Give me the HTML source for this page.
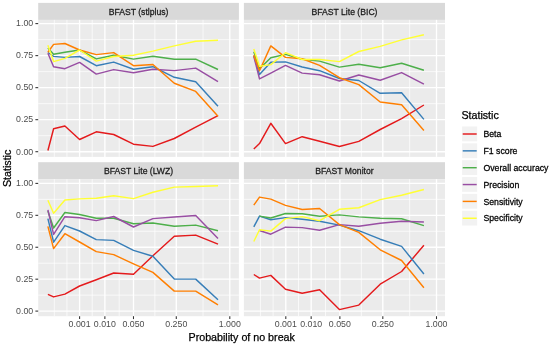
<!DOCTYPE html>
<html><head><meta charset="utf-8"><title>Statistic plot</title>
<style>
html,body{margin:0;padding:0;background:#fff;}
body{width:550px;height:345px;overflow:hidden;}
svg{display:block;font-family:'Liberation Sans', Arial, Helvetica, sans-serif;filter:blur(0.3px);}
text{stroke-width:0.25px;paint-order:fill;}
.t{stroke:none} .k{stroke:#000} .s{stroke:#1A1A1A}
</style></head><body>
<svg width="550" height="345" viewBox="0 0 550 345">
<rect width="550" height="345" fill="#FFFFFF"/>
<rect x="38.2" y="2.9" width="200.7" height="17.00" fill="#D9D9D9"/>
<text transform="translate(138.55,14.60) scale(1,1.1)" font-size="8.65" fill="#1A1A1A" class="s" text-anchor="middle">BFAST (stlplus)</text>
<rect x="38.2" y="19.9" width="200.7" height="137.0" fill="#EBEBEB"/>
<svg x="38.2" y="19.9" width="200.7" height="137.0" viewBox="38.2 19.9 200.7 137.0" overflow="hidden">
<line x1="38.2" x2="238.89999999999998" y1="135.69" y2="135.69" stroke="#FFFFFF" stroke-width="0.7"/>
<line x1="38.2" x2="238.89999999999998" y1="103.66" y2="103.66" stroke="#FFFFFF" stroke-width="0.7"/>
<line x1="38.2" x2="238.89999999999998" y1="71.64" y2="71.64" stroke="#FFFFFF" stroke-width="0.7"/>
<line x1="38.2" x2="238.89999999999998" y1="39.61" y2="39.61" stroke="#FFFFFF" stroke-width="0.7"/>
<line x1="54.30" x2="54.30" y1="19.9" y2="156.9" stroke="#FFFFFF" stroke-width="0.7"/>
<line x1="66.95" x2="66.95" y1="19.9" y2="156.9" stroke="#FFFFFF" stroke-width="0.7"/>
<line x1="92.23" x2="92.23" y1="19.9" y2="156.9" stroke="#FFFFFF" stroke-width="0.7"/>
<line x1="119.18" x2="119.18" y1="19.9" y2="156.9" stroke="#FFFFFF" stroke-width="0.7"/>
<line x1="154.89" x2="154.89" y1="19.9" y2="156.9" stroke="#FFFFFF" stroke-width="0.7"/>
<line x1="203.04" x2="203.04" y1="19.9" y2="156.9" stroke="#FFFFFF" stroke-width="0.7"/>
<line x1="38.2" x2="238.89999999999998" y1="151.70" y2="151.70" stroke="#FFFFFF" stroke-width="1.35"/>
<line x1="38.2" x2="238.89999999999998" y1="119.67" y2="119.67" stroke="#FFFFFF" stroke-width="1.35"/>
<line x1="38.2" x2="238.89999999999998" y1="87.65" y2="87.65" stroke="#FFFFFF" stroke-width="1.35"/>
<line x1="38.2" x2="238.89999999999998" y1="55.62" y2="55.62" stroke="#FFFFFF" stroke-width="1.35"/>
<line x1="38.2" x2="238.89999999999998" y1="23.60" y2="23.60" stroke="#FFFFFF" stroke-width="1.35"/>
<line x1="79.59" x2="79.59" y1="19.9" y2="156.9" stroke="#FFFFFF" stroke-width="1.35"/>
<line x1="104.87" x2="104.87" y1="19.9" y2="156.9" stroke="#FFFFFF" stroke-width="1.35"/>
<line x1="133.49" x2="133.49" y1="19.9" y2="156.9" stroke="#FFFFFF" stroke-width="1.35"/>
<line x1="176.29" x2="176.29" y1="19.9" y2="156.9" stroke="#FFFFFF" stroke-width="1.35"/>
<line x1="229.80" x2="229.80" y1="19.9" y2="156.9" stroke="#FFFFFF" stroke-width="1.35"/>
<polyline points="47.9,150.5 53.6,128.7 64.9,126.0 79.6,139.5 96.3,131.8 113.7,134.5 133.5,144.2 152.9,146.4 174.3,138.5 195.7,127.1 218.0,115.6" fill="none" stroke="#E41A1C" stroke-width="1.45" stroke-linejoin="round" stroke-linecap="butt"/>
<polyline points="47.9,52.5 53.6,56.4 64.9,57.4 79.6,56.5 96.3,65.7 113.7,62.1 133.5,69.2 152.9,66.7 174.3,77.3 195.7,81.7 218.0,106.2" fill="none" stroke="#377EB8" stroke-width="1.45" stroke-linejoin="round" stroke-linecap="butt"/>
<polyline points="47.9,48.0 53.6,54.2 64.9,52.3 79.6,50.0 96.3,58.9 113.7,55.2 133.5,59.1 152.9,56.2 174.3,59.3 195.7,59.1 218.0,69.5" fill="none" stroke="#4DAF4A" stroke-width="1.45" stroke-linejoin="round" stroke-linecap="butt"/>
<polyline points="47.9,53.3 53.6,66.7 64.9,68.7 79.6,62.4 96.3,74.1 113.7,69.6 133.5,72.8 152.9,69.3 174.3,70.6 195.7,68.1 218.0,81.7" fill="none" stroke="#984EA3" stroke-width="1.45" stroke-linejoin="round" stroke-linecap="butt"/>
<polyline points="47.9,52.2 53.6,44.4 64.9,43.5 79.6,50.0 96.3,54.6 113.7,52.6 133.5,65.7 152.9,64.5 174.3,83.2 195.7,91.4 218.0,116.3" fill="none" stroke="#FF7F00" stroke-width="1.45" stroke-linejoin="round" stroke-linecap="butt"/>
<polyline points="47.9,45.3 53.6,61.6 64.9,58.4 79.6,50.0 96.3,61.1 113.7,56.5 133.5,55.2 152.9,51.1 174.3,45.9 195.7,41.2 218.0,40.3" fill="none" stroke="#FFFF33" stroke-width="1.45" stroke-linejoin="round" stroke-linecap="butt"/>
</svg>
<line x1="35.4" x2="38.2" y1="151.70" y2="151.70" stroke="#333333" stroke-width="1.07"/>
<text transform="translate(33.2,154.50) scale(1.0,1.1)" font-size="8.8" fill="#4D4D4D" class="t" text-anchor="end">0.00</text>
<line x1="35.4" x2="38.2" y1="119.67" y2="119.67" stroke="#333333" stroke-width="1.07"/>
<text transform="translate(33.2,122.47) scale(1.0,1.1)" font-size="8.8" fill="#4D4D4D" class="t" text-anchor="end">0.25</text>
<line x1="35.4" x2="38.2" y1="87.65" y2="87.65" stroke="#333333" stroke-width="1.07"/>
<text transform="translate(33.2,90.45) scale(1.0,1.1)" font-size="8.8" fill="#4D4D4D" class="t" text-anchor="end">0.50</text>
<line x1="35.4" x2="38.2" y1="55.62" y2="55.62" stroke="#333333" stroke-width="1.07"/>
<text transform="translate(33.2,58.42) scale(1.0,1.1)" font-size="8.8" fill="#4D4D4D" class="t" text-anchor="end">0.75</text>
<line x1="35.4" x2="38.2" y1="23.60" y2="23.60" stroke="#333333" stroke-width="1.07"/>
<text transform="translate(33.2,26.40) scale(1.0,1.1)" font-size="8.8" fill="#4D4D4D" class="t" text-anchor="end">1.00</text>
<rect x="243.9" y="2.9" width="201.1" height="17.00" fill="#D9D9D9"/>
<text transform="translate(344.45,14.60) scale(1,1.1)" font-size="8.65" fill="#1A1A1A" class="s" text-anchor="middle">BFAST Lite (BIC)</text>
<rect x="243.9" y="19.9" width="201.1" height="137.0" fill="#EBEBEB"/>
<svg x="243.9" y="19.9" width="201.1" height="137.0" viewBox="243.9 19.9 201.1 137.0" overflow="hidden">
<line x1="243.9" x2="445.0" y1="135.69" y2="135.69" stroke="#FFFFFF" stroke-width="0.7"/>
<line x1="243.9" x2="445.0" y1="103.66" y2="103.66" stroke="#FFFFFF" stroke-width="0.7"/>
<line x1="243.9" x2="445.0" y1="71.64" y2="71.64" stroke="#FFFFFF" stroke-width="0.7"/>
<line x1="243.9" x2="445.0" y1="39.61" y2="39.61" stroke="#FFFFFF" stroke-width="0.7"/>
<line x1="260.43" x2="260.43" y1="19.9" y2="156.9" stroke="#FFFFFF" stroke-width="0.7"/>
<line x1="273.11" x2="273.11" y1="19.9" y2="156.9" stroke="#FFFFFF" stroke-width="0.7"/>
<line x1="298.48" x2="298.48" y1="19.9" y2="156.9" stroke="#FFFFFF" stroke-width="0.7"/>
<line x1="325.52" x2="325.52" y1="19.9" y2="156.9" stroke="#FFFFFF" stroke-width="0.7"/>
<line x1="361.34" x2="361.34" y1="19.9" y2="156.9" stroke="#FFFFFF" stroke-width="0.7"/>
<line x1="409.66" x2="409.66" y1="19.9" y2="156.9" stroke="#FFFFFF" stroke-width="0.7"/>
<line x1="243.9" x2="445.0" y1="151.70" y2="151.70" stroke="#FFFFFF" stroke-width="1.35"/>
<line x1="243.9" x2="445.0" y1="119.67" y2="119.67" stroke="#FFFFFF" stroke-width="1.35"/>
<line x1="243.9" x2="445.0" y1="87.65" y2="87.65" stroke="#FFFFFF" stroke-width="1.35"/>
<line x1="243.9" x2="445.0" y1="55.62" y2="55.62" stroke="#FFFFFF" stroke-width="1.35"/>
<line x1="243.9" x2="445.0" y1="23.60" y2="23.60" stroke="#FFFFFF" stroke-width="1.35"/>
<line x1="285.80" x2="285.80" y1="19.9" y2="156.9" stroke="#FFFFFF" stroke-width="1.35"/>
<line x1="311.16" x2="311.16" y1="19.9" y2="156.9" stroke="#FFFFFF" stroke-width="1.35"/>
<line x1="339.88" x2="339.88" y1="19.9" y2="156.9" stroke="#FFFFFF" stroke-width="1.35"/>
<line x1="382.81" x2="382.81" y1="19.9" y2="156.9" stroke="#FFFFFF" stroke-width="1.35"/>
<line x1="436.50" x2="436.50" y1="19.9" y2="156.9" stroke="#FFFFFF" stroke-width="1.35"/>
<polyline points="253.8,149.1 259.5,143.6 270.8,123.3 285.5,143.6 302.2,136.7 319.6,141.3 339.4,146.5 358.8,141.4 380.2,129.5 401.6,118.6 423.9,105.0" fill="none" stroke="#E41A1C" stroke-width="1.45" stroke-linejoin="round" stroke-linecap="butt"/>
<polyline points="253.8,55.5 259.5,74.6 270.8,62.2 285.5,61.9 302.2,67.0 319.6,70.7 339.4,78.5 358.8,80.5 380.2,93.3 401.6,92.7 423.9,119.4" fill="none" stroke="#377EB8" stroke-width="1.45" stroke-linejoin="round" stroke-linecap="butt"/>
<polyline points="253.8,51.8 259.5,68.7 270.8,57.7 285.5,54.4 302.2,59.2 319.6,61.1 339.4,67.1 358.8,64.2 380.2,67.7 401.6,63.2 423.9,70.3" fill="none" stroke="#4DAF4A" stroke-width="1.45" stroke-linejoin="round" stroke-linecap="butt"/>
<polyline points="253.8,56.2 259.5,78.9 270.8,73.1 285.5,65.4 302.2,73.1 319.6,74.7 339.4,81.0 358.8,75.0 380.2,80.2 401.6,72.6 423.9,84.2" fill="none" stroke="#984EA3" stroke-width="1.45" stroke-linejoin="round" stroke-linecap="butt"/>
<polyline points="253.8,55.2 259.5,70.8 270.8,45.9 285.5,57.4 302.2,58.7 319.6,65.4 339.4,77.7 358.8,84.6 380.2,102.0 401.6,104.7 423.9,130.5" fill="none" stroke="#FF7F00" stroke-width="1.45" stroke-linejoin="round" stroke-linecap="butt"/>
<polyline points="253.8,49.1 259.5,66.2 270.8,64.6 285.5,52.7 302.2,59.5 319.6,59.5 339.4,61.6 358.8,51.5 380.2,46.4 401.6,39.9 423.9,34.8" fill="none" stroke="#FFFF33" stroke-width="1.45" stroke-linejoin="round" stroke-linecap="butt"/>
</svg>
<rect x="38.2" y="162.2" width="200.7" height="17.00" fill="#D9D9D9"/>
<text transform="translate(138.55,173.90) scale(1,1.1)" font-size="8.65" fill="#1A1A1A" class="s" text-anchor="middle">BFAST Lite (LWZ)</text>
<rect x="38.2" y="179.2" width="200.7" height="137.0" fill="#EBEBEB"/>
<svg x="38.2" y="179.2" width="200.7" height="137.0" viewBox="38.2 179.2 200.7 137.0" overflow="hidden">
<line x1="38.2" x2="238.89999999999998" y1="295.14" y2="295.14" stroke="#FFFFFF" stroke-width="0.7"/>
<line x1="38.2" x2="238.89999999999998" y1="263.21" y2="263.21" stroke="#FFFFFF" stroke-width="0.7"/>
<line x1="38.2" x2="238.89999999999998" y1="231.29" y2="231.29" stroke="#FFFFFF" stroke-width="0.7"/>
<line x1="38.2" x2="238.89999999999998" y1="199.36" y2="199.36" stroke="#FFFFFF" stroke-width="0.7"/>
<line x1="54.30" x2="54.30" y1="179.2" y2="316.2" stroke="#FFFFFF" stroke-width="0.7"/>
<line x1="66.95" x2="66.95" y1="179.2" y2="316.2" stroke="#FFFFFF" stroke-width="0.7"/>
<line x1="92.23" x2="92.23" y1="179.2" y2="316.2" stroke="#FFFFFF" stroke-width="0.7"/>
<line x1="119.18" x2="119.18" y1="179.2" y2="316.2" stroke="#FFFFFF" stroke-width="0.7"/>
<line x1="154.89" x2="154.89" y1="179.2" y2="316.2" stroke="#FFFFFF" stroke-width="0.7"/>
<line x1="203.04" x2="203.04" y1="179.2" y2="316.2" stroke="#FFFFFF" stroke-width="0.7"/>
<line x1="38.2" x2="238.89999999999998" y1="311.10" y2="311.10" stroke="#FFFFFF" stroke-width="1.35"/>
<line x1="38.2" x2="238.89999999999998" y1="279.18" y2="279.18" stroke="#FFFFFF" stroke-width="1.35"/>
<line x1="38.2" x2="238.89999999999998" y1="247.25" y2="247.25" stroke="#FFFFFF" stroke-width="1.35"/>
<line x1="38.2" x2="238.89999999999998" y1="215.33" y2="215.33" stroke="#FFFFFF" stroke-width="1.35"/>
<line x1="38.2" x2="238.89999999999998" y1="183.40" y2="183.40" stroke="#FFFFFF" stroke-width="1.35"/>
<line x1="79.59" x2="79.59" y1="179.2" y2="316.2" stroke="#FFFFFF" stroke-width="1.35"/>
<line x1="104.87" x2="104.87" y1="179.2" y2="316.2" stroke="#FFFFFF" stroke-width="1.35"/>
<line x1="133.49" x2="133.49" y1="179.2" y2="316.2" stroke="#FFFFFF" stroke-width="1.35"/>
<line x1="176.29" x2="176.29" y1="179.2" y2="316.2" stroke="#FFFFFF" stroke-width="1.35"/>
<line x1="229.80" x2="229.80" y1="179.2" y2="316.2" stroke="#FFFFFF" stroke-width="1.35"/>
<polyline points="47.9,294.4 53.6,296.9 64.9,294.1 79.6,286.0 96.3,279.7 113.7,273.0 133.5,274.3 152.9,255.7 174.3,236.2 195.7,235.1 218.0,244.2" fill="none" stroke="#E41A1C" stroke-width="1.45" stroke-linejoin="round" stroke-linecap="butt"/>
<polyline points="47.9,218.6 53.6,242.2 64.9,225.6 79.6,231.0 96.3,239.6 113.7,240.4 133.5,250.4 152.9,256.2 174.3,279.1 195.7,279.1 218.0,299.8" fill="none" stroke="#377EB8" stroke-width="1.45" stroke-linejoin="round" stroke-linecap="butt"/>
<polyline points="47.9,211.0 53.6,228.0 64.9,212.5 79.6,214.5 96.3,218.2 113.7,218.2 133.5,223.7 152.9,223.0 174.3,226.3 195.7,225.1 218.0,230.8" fill="none" stroke="#4DAF4A" stroke-width="1.45" stroke-linejoin="round" stroke-linecap="butt"/>
<polyline points="47.9,209.9 53.6,234.4 64.9,216.7 79.6,217.7 96.3,220.6 113.7,216.5 133.5,227.0 152.9,218.6 174.3,217.0 195.7,215.5 218.0,238.4" fill="none" stroke="#984EA3" stroke-width="1.45" stroke-linejoin="round" stroke-linecap="butt"/>
<polyline points="47.9,226.4 53.6,248.6 64.9,233.7 79.6,242.0 96.3,251.6 113.7,254.6 133.5,263.8 152.9,272.4 174.3,291.1 195.7,291.1 218.0,304.8" fill="none" stroke="#FF7F00" stroke-width="1.45" stroke-linejoin="round" stroke-linecap="butt"/>
<polyline points="47.9,200.3 53.6,213.3 64.9,200.0 79.6,198.9 96.3,198.3 113.7,195.8 133.5,198.6 152.9,192.2 174.3,187.1 195.7,186.5 218.0,185.7" fill="none" stroke="#FFFF33" stroke-width="1.45" stroke-linejoin="round" stroke-linecap="butt"/>
</svg>
<line x1="35.4" x2="38.2" y1="311.10" y2="311.10" stroke="#333333" stroke-width="1.07"/>
<text transform="translate(33.2,313.90) scale(1.0,1.1)" font-size="8.8" fill="#4D4D4D" class="t" text-anchor="end">0.00</text>
<line x1="35.4" x2="38.2" y1="279.18" y2="279.18" stroke="#333333" stroke-width="1.07"/>
<text transform="translate(33.2,281.98) scale(1.0,1.1)" font-size="8.8" fill="#4D4D4D" class="t" text-anchor="end">0.25</text>
<line x1="35.4" x2="38.2" y1="247.25" y2="247.25" stroke="#333333" stroke-width="1.07"/>
<text transform="translate(33.2,250.05) scale(1.0,1.1)" font-size="8.8" fill="#4D4D4D" class="t" text-anchor="end">0.50</text>
<line x1="35.4" x2="38.2" y1="215.33" y2="215.33" stroke="#333333" stroke-width="1.07"/>
<text transform="translate(33.2,218.13) scale(1.0,1.1)" font-size="8.8" fill="#4D4D4D" class="t" text-anchor="end">0.75</text>
<line x1="35.4" x2="38.2" y1="183.40" y2="183.40" stroke="#333333" stroke-width="1.07"/>
<text transform="translate(33.2,186.20) scale(1.0,1.1)" font-size="8.8" fill="#4D4D4D" class="t" text-anchor="end">1.00</text>
<line x1="79.59" x2="79.59" y1="316.2" y2="319.10" stroke="#333333" stroke-width="1.07"/>
<text transform="translate(79.59,327.2) scale(1.0,1.1)" font-size="8.8" fill="#4D4D4D" class="t" text-anchor="middle">0.001</text>
<line x1="104.87" x2="104.87" y1="316.2" y2="319.10" stroke="#333333" stroke-width="1.07"/>
<text transform="translate(104.87,327.2) scale(1.0,1.1)" font-size="8.8" fill="#4D4D4D" class="t" text-anchor="middle">0.010</text>
<line x1="133.49" x2="133.49" y1="316.2" y2="319.10" stroke="#333333" stroke-width="1.07"/>
<text transform="translate(133.49,327.2) scale(1.0,1.1)" font-size="8.8" fill="#4D4D4D" class="t" text-anchor="middle">0.050</text>
<line x1="176.29" x2="176.29" y1="316.2" y2="319.10" stroke="#333333" stroke-width="1.07"/>
<text transform="translate(176.29,327.2) scale(1.0,1.1)" font-size="8.8" fill="#4D4D4D" class="t" text-anchor="middle">0.250</text>
<line x1="229.80" x2="229.80" y1="316.2" y2="319.10" stroke="#333333" stroke-width="1.07"/>
<text transform="translate(229.80,327.2) scale(1.0,1.1)" font-size="8.8" fill="#4D4D4D" class="t" text-anchor="middle">1.000</text>
<rect x="243.9" y="162.2" width="201.1" height="17.00" fill="#D9D9D9"/>
<text transform="translate(344.45,173.90) scale(1,1.1)" font-size="8.65" fill="#1A1A1A" class="s" text-anchor="middle">BFAST Monitor</text>
<rect x="243.9" y="179.2" width="201.1" height="137.0" fill="#EBEBEB"/>
<svg x="243.9" y="179.2" width="201.1" height="137.0" viewBox="243.9 179.2 201.1 137.0" overflow="hidden">
<line x1="243.9" x2="445.0" y1="295.14" y2="295.14" stroke="#FFFFFF" stroke-width="0.7"/>
<line x1="243.9" x2="445.0" y1="263.21" y2="263.21" stroke="#FFFFFF" stroke-width="0.7"/>
<line x1="243.9" x2="445.0" y1="231.29" y2="231.29" stroke="#FFFFFF" stroke-width="0.7"/>
<line x1="243.9" x2="445.0" y1="199.36" y2="199.36" stroke="#FFFFFF" stroke-width="0.7"/>
<line x1="260.43" x2="260.43" y1="179.2" y2="316.2" stroke="#FFFFFF" stroke-width="0.7"/>
<line x1="273.11" x2="273.11" y1="179.2" y2="316.2" stroke="#FFFFFF" stroke-width="0.7"/>
<line x1="298.48" x2="298.48" y1="179.2" y2="316.2" stroke="#FFFFFF" stroke-width="0.7"/>
<line x1="325.52" x2="325.52" y1="179.2" y2="316.2" stroke="#FFFFFF" stroke-width="0.7"/>
<line x1="361.34" x2="361.34" y1="179.2" y2="316.2" stroke="#FFFFFF" stroke-width="0.7"/>
<line x1="409.66" x2="409.66" y1="179.2" y2="316.2" stroke="#FFFFFF" stroke-width="0.7"/>
<line x1="243.9" x2="445.0" y1="311.10" y2="311.10" stroke="#FFFFFF" stroke-width="1.35"/>
<line x1="243.9" x2="445.0" y1="279.18" y2="279.18" stroke="#FFFFFF" stroke-width="1.35"/>
<line x1="243.9" x2="445.0" y1="247.25" y2="247.25" stroke="#FFFFFF" stroke-width="1.35"/>
<line x1="243.9" x2="445.0" y1="215.33" y2="215.33" stroke="#FFFFFF" stroke-width="1.35"/>
<line x1="243.9" x2="445.0" y1="183.40" y2="183.40" stroke="#FFFFFF" stroke-width="1.35"/>
<line x1="285.80" x2="285.80" y1="179.2" y2="316.2" stroke="#FFFFFF" stroke-width="1.35"/>
<line x1="311.16" x2="311.16" y1="179.2" y2="316.2" stroke="#FFFFFF" stroke-width="1.35"/>
<line x1="339.88" x2="339.88" y1="179.2" y2="316.2" stroke="#FFFFFF" stroke-width="1.35"/>
<line x1="382.81" x2="382.81" y1="179.2" y2="316.2" stroke="#FFFFFF" stroke-width="1.35"/>
<line x1="436.50" x2="436.50" y1="179.2" y2="316.2" stroke="#FFFFFF" stroke-width="1.35"/>
<polyline points="253.8,274.5 259.5,278.1 270.8,275.4 285.5,289.3 302.2,293.2 319.6,289.8 339.4,309.6 358.8,305.1 380.2,284.2 401.6,271.5 423.9,245.3" fill="none" stroke="#E41A1C" stroke-width="1.45" stroke-linejoin="round" stroke-linecap="butt"/>
<polyline points="253.8,226.8 259.5,216.1 270.8,219.8 285.5,217.6 302.2,219.2 319.6,221.3 339.4,225.1 358.8,230.7 380.2,239.2 401.6,246.4 423.9,274.0" fill="none" stroke="#377EB8" stroke-width="1.45" stroke-linejoin="round" stroke-linecap="butt"/>
<polyline points="259.5,216.1 270.8,218.0 285.5,213.5 302.2,213.8 319.6,216.2 339.4,214.9 358.8,216.9 380.2,218.2 401.6,218.7 423.9,225.6" fill="none" stroke="#4DAF4A" stroke-width="1.45" stroke-linejoin="round" stroke-linecap="butt"/>
<polyline points="259.5,230.5 270.8,234.2 285.5,227.1 302.2,227.6 319.6,230.2 339.4,224.6 358.8,226.3 380.2,223.3 401.6,221.3 423.9,222.0" fill="none" stroke="#984EA3" stroke-width="1.45" stroke-linejoin="round" stroke-linecap="butt"/>
<polyline points="253.8,205.1 259.5,197.1 270.8,199.1 285.5,205.4 302.2,209.5 319.6,208.5 339.4,224.6 358.8,232.4 380.2,249.8 401.6,260.5 423.9,287.8" fill="none" stroke="#FF7F00" stroke-width="1.45" stroke-linejoin="round" stroke-linecap="butt"/>
<polyline points="253.8,241.5 259.5,229.7 270.8,231.1 285.5,218.6 302.2,216.6 319.6,220.7 339.4,209.3 358.8,207.8 380.2,199.6 401.6,195.3 423.9,189.5" fill="none" stroke="#FFFF33" stroke-width="1.45" stroke-linejoin="round" stroke-linecap="butt"/>
</svg>
<line x1="285.80" x2="285.80" y1="316.2" y2="319.10" stroke="#333333" stroke-width="1.07"/>
<text transform="translate(285.80,327.2) scale(1.0,1.1)" font-size="8.8" fill="#4D4D4D" class="t" text-anchor="middle">0.001</text>
<line x1="311.16" x2="311.16" y1="316.2" y2="319.10" stroke="#333333" stroke-width="1.07"/>
<text transform="translate(311.16,327.2) scale(1.0,1.1)" font-size="8.8" fill="#4D4D4D" class="t" text-anchor="middle">0.010</text>
<line x1="339.88" x2="339.88" y1="316.2" y2="319.10" stroke="#333333" stroke-width="1.07"/>
<text transform="translate(339.88,327.2) scale(1.0,1.1)" font-size="8.8" fill="#4D4D4D" class="t" text-anchor="middle">0.050</text>
<line x1="382.81" x2="382.81" y1="316.2" y2="319.10" stroke="#333333" stroke-width="1.07"/>
<text transform="translate(382.81,327.2) scale(1.0,1.1)" font-size="8.8" fill="#4D4D4D" class="t" text-anchor="middle">0.250</text>
<line x1="436.50" x2="436.50" y1="316.2" y2="319.10" stroke="#333333" stroke-width="1.07"/>
<text transform="translate(436.50,327.2) scale(1.0,1.1)" font-size="8.8" fill="#4D4D4D" class="t" text-anchor="middle">1.000</text>
<text x="241.7" y="340.6" font-size="10.7" fill="#000000" class="k" text-anchor="middle">Probability of no break</text>
<text transform="translate(11.0,168.4) rotate(-90)" x="0" y="0" font-size="10.7" fill="#000000" class="k" text-anchor="middle">Statistic</text>
<text x="461.4" y="118.8" font-size="10.7" fill="#000000" class="k">Statistic</text>
<rect x="462.1" y="126.50" width="15.1" height="14.8" fill="#F2F2F2"/>
<line x1="462.7" x2="476.7" y1="134.00" y2="134.00" stroke="#E41A1C" stroke-width="1.45"/>
<text transform="translate(483.4,137.10) scale(1,1.1)" font-size="8.75" fill="#000000" class="k">Beta</text>
<rect x="462.1" y="143.35" width="15.1" height="14.8" fill="#F2F2F2"/>
<line x1="462.7" x2="476.7" y1="150.85" y2="150.85" stroke="#377EB8" stroke-width="1.45"/>
<text transform="translate(483.4,153.95) scale(1,1.1)" font-size="8.75" fill="#000000" class="k">F1 score</text>
<rect x="462.1" y="160.20" width="15.1" height="14.8" fill="#F2F2F2"/>
<line x1="462.7" x2="476.7" y1="167.70" y2="167.70" stroke="#4DAF4A" stroke-width="1.45"/>
<text transform="translate(483.4,170.80) scale(1,1.1)" font-size="8.75" fill="#000000" class="k">Overall accuracy</text>
<rect x="462.1" y="177.05" width="15.1" height="14.8" fill="#F2F2F2"/>
<line x1="462.7" x2="476.7" y1="184.55" y2="184.55" stroke="#984EA3" stroke-width="1.45"/>
<text transform="translate(483.4,187.65) scale(1,1.1)" font-size="8.75" fill="#000000" class="k">Precision</text>
<rect x="462.1" y="193.90" width="15.1" height="14.8" fill="#F2F2F2"/>
<line x1="462.7" x2="476.7" y1="201.40" y2="201.40" stroke="#FF7F00" stroke-width="1.45"/>
<text transform="translate(483.4,204.50) scale(1,1.1)" font-size="8.75" fill="#000000" class="k">Sensitivity</text>
<rect x="462.1" y="210.75" width="15.1" height="14.8" fill="#F2F2F2"/>
<line x1="462.7" x2="476.7" y1="218.25" y2="218.25" stroke="#FFFF33" stroke-width="1.45"/>
<text transform="translate(483.4,221.35) scale(1,1.1)" font-size="8.75" fill="#000000" class="k">Specificity</text>
</svg>
</body></html>
